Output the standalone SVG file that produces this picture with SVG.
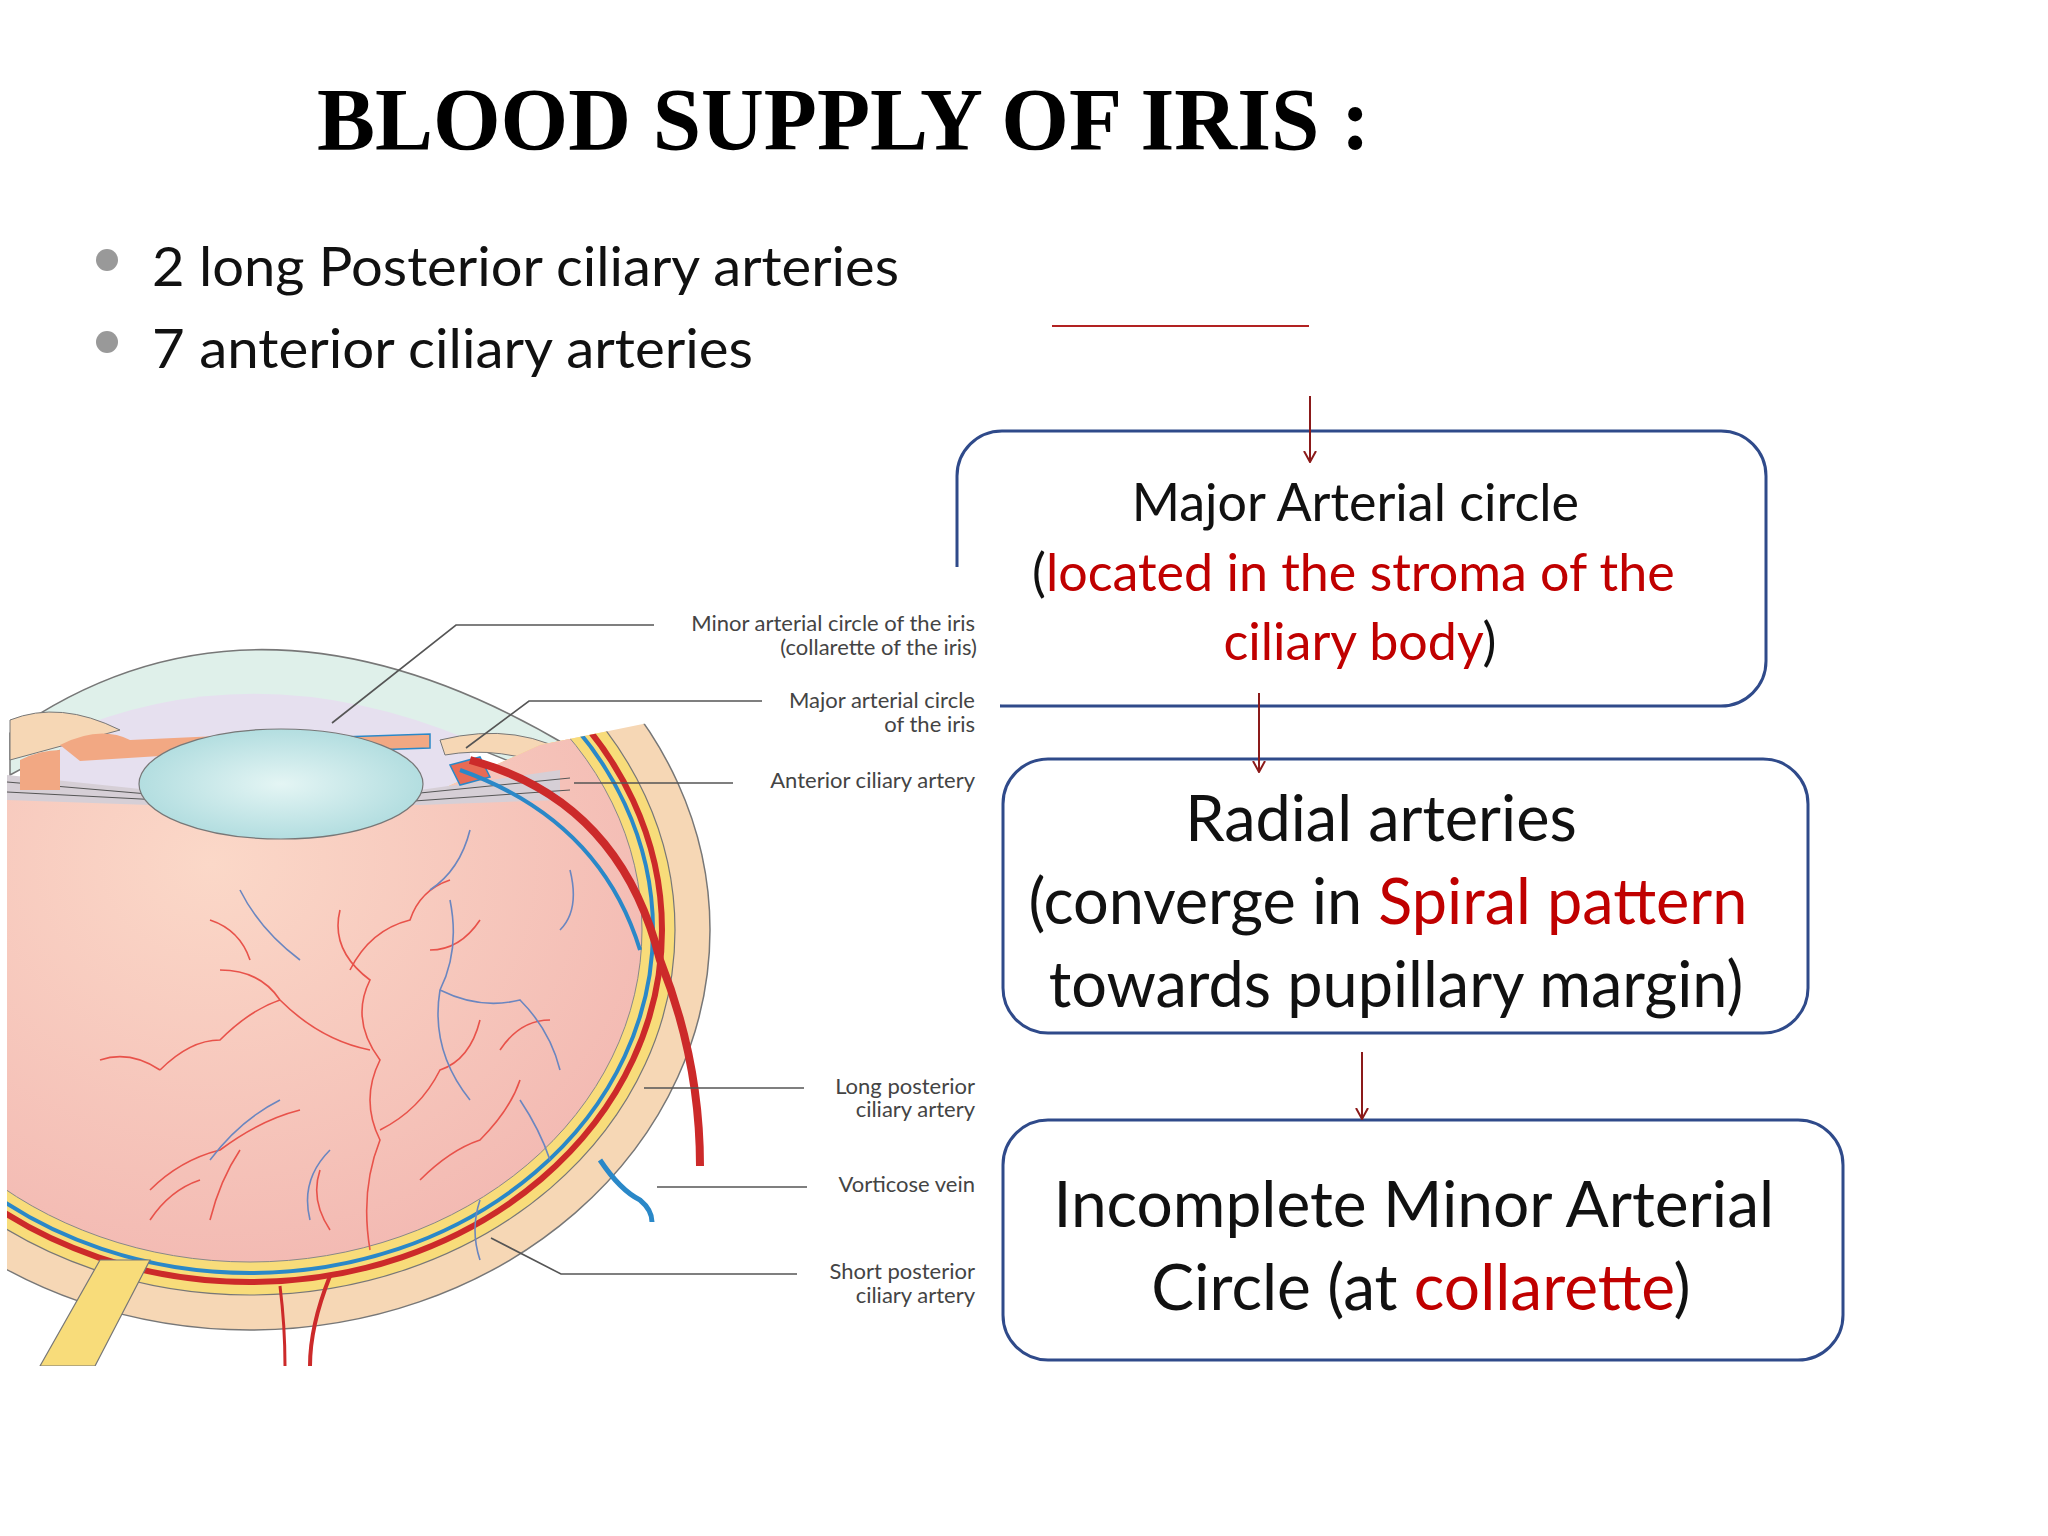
<svg xmlns="http://www.w3.org/2000/svg" width="2048" height="1536" viewBox="0 0 2048 1536">
<defs>
<style>
.t{font-family:"Liberation Serif",serif;font-weight:bold;font-size:88px;fill:#000}
.b{font-family:Lato,"Open Sans",sans-serif;fill:#111}
.r{fill:#c00000}
.box{fill:#fff;stroke:#2f4a8a;stroke-width:3}
.lab{font-family:Lato,"Open Sans",sans-serif;font-size:22px;fill:#444;text-anchor:end}
.lead{fill:none;stroke:#555;stroke-width:1.6}
.arr{stroke:#8b1a1a;stroke-width:2;fill:none}
.red{fill:none;stroke:#e8524a;stroke-width:1.6}
.blu{fill:none;stroke:#6a86c0;stroke-width:1.6}
</style>
<marker id="ah" viewBox="0 0 12 14" refX="11" refY="7" markerWidth="12" markerHeight="14" markerUnits="userSpaceOnUse" orient="auto">
<path d="M0,1 L11,7 L0,13" fill="none" stroke="#8b1a1a" stroke-width="2"/>
</marker>
<radialGradient id="pg" cx="0.45" cy="0.4" r="0.7"><stop offset="0" stop-color="#fbd8c8"/><stop offset="1" stop-color="#f2b6b0"/></radialGradient>
<radialGradient id="lg" cx="0.5" cy="0.5" r="0.6"><stop offset="0" stop-color="#e4f5f4"/><stop offset="1" stop-color="#a9d9dc"/></radialGradient>
<clipPath id="ec"><rect x="7" y="600" width="745" height="766"/></clipPath>
<clipPath id="gc"><path d="M7,790 L440,790 L540,745 L760,700 L760,1366 L7,1366Z"/></clipPath>
</defs>
<rect width="2048" height="1536" fill="#fff"/>
<text class="t" x="317" y="149" textLength="1053" lengthAdjust="spacingAndGlyphs">BLOOD SUPPLY OF IRIS :</text>
<g id="bullets">
<circle cx="107" cy="260" r="11" fill="#999"/>
<circle cx="107" cy="342" r="11" fill="#999"/>
<text class="b" x="152" y="286" font-size="54" textLength="747" lengthAdjust="spacingAndGlyphs">2 long Posterior ciliary arteries</text>
<text class="b" x="152" y="368" font-size="54" textLength="601" lengthAdjust="spacingAndGlyphs">7 anterior ciliary arteries</text>
</g>
<line x1="1052" y1="326" x2="1309" y2="326" stroke="#b22222" stroke-width="1.8"/>
<g id="n1"><rect class="box" x="957" y="431" width="809" height="275" rx="45"/>
<text class="b" font-size="52" text-anchor="middle">
<tspan x="1362" y="521">Major Arterial circle</tspan>
<tspan x="1360" y="591">(<tspan class="r">located in the stroma of the</tspan></tspan>
<tspan x="1360" y="660"><tspan class="r">ciliary body</tspan>)</tspan></text></g>
<g id="n2"><rect class="box" x="1003" y="759" width="805" height="274" rx="45"/>
<text class="b" font-size="63" text-anchor="middle">
<tspan x="1389" y="841">Radial arteries</tspan>
<tspan x="1396" y="924">(converge in <tspan class="r">Spiral pattern</tspan></tspan>
<tspan x="1396" y="1007">towards pupillary margin)</tspan></text></g>
<g id="n3"><rect class="box" x="1003" y="1120" width="840" height="240" rx="45"/>
<text class="b" font-size="64" text-anchor="middle">
<tspan x="1422" y="1227">Incomplete Minor Arterial</tspan>
<tspan x="1421" y="1310">Circle (at <tspan class="r">collarette</tspan>)</tspan></text></g>
<g id="connectors">
<line class="arr" x1="1310" y1="396" x2="1310" y2="462" marker-end="url(#ah)"/>
<line class="arr" x1="1259" y1="693" x2="1259" y2="772" marker-end="url(#ah)"/>
<line class="arr" x1="1362" y1="1052" x2="1362" y2="1119" marker-end="url(#ah)"/>
</g>
<g id="eye">
<rect x="0" y="567" width="1000" height="813" fill="#fff"/>
<g clip-path="url(#ec)">
<path d="M10,733 Q255,560 568,746 L540,775 Q255,640 10,775Z" fill="#dff0ea" stroke="#777" stroke-width="1.5"/>
<path d="M60,735 Q255,650 470,740 L470,795 L60,795Z" fill="#e6e0ef"/>
<path d="M440,740 Q520,720 580,760 L560,770 Q500,745 445,755Z" fill="#f6d7b5" stroke="#777" stroke-width="1"/>
<path d="M10,720 Q60,700 120,730 L10,760Z" fill="#f6d7b5" stroke="#777" stroke-width="1"/>
<g clip-path="url(#gc)">
<ellipse cx="250" cy="930" rx="460" ry="400" fill="#f6d7b5" stroke="#777" stroke-width="1.5"/>
<ellipse cx="250" cy="930" rx="425" ry="365" fill="#f8dc7a" stroke="#777" stroke-width="1.2"/>
<ellipse cx="250" cy="930" rx="412" ry="352" fill="none" stroke="#cc2a2a" stroke-width="6"/>
<ellipse cx="250" cy="930" rx="403" ry="343" fill="none" stroke="#2a88c8" stroke-width="4"/>
<ellipse cx="250" cy="930" rx="392" ry="332" fill="url(#pg)" stroke="#888" stroke-width="1"/>
</g>
<path d="M7,775 L150,790 L420,790 L560,770 L560,800 L420,805 L150,805 L7,800Z" fill="#d6cfd6"/>
<path d="M7,782 L160,795 M7,792 L160,800 M400,795 L570,778 M400,802 L570,790" stroke="#555" stroke-width="1"/>
<path d="M60,745 q40,-20 70,-5 l110,-5 l0,16 l-160,10 Z" fill="#f2a883"/>
<path d="M20,760 q20,-10 40,-10 l0,40 l-40,0Z" fill="#f2a883"/>
<path d="M310,738 l120,-4 l0,14 l-120,4Z" fill="#f2a883" stroke="#2a88c8" stroke-width="1.5"/>
<path d="M450,765 l30,-8 l10,20 l-30,8Z" fill="#e86b55" stroke="#2a88c8" stroke-width="1.5"/>
<ellipse cx="281" cy="784" rx="142" ry="55" fill="url(#lg)" stroke="#777" stroke-width="1.2"/>
<path d="M470,760 Q620,800 660,960 Q700,1060 700,1166" fill="none" stroke="#cc2a2a" stroke-width="8"/>
<path d="M460,770 Q600,820 640,950" fill="none" stroke="#2a88c8" stroke-width="4"/>
<path d="M600,1160 q20,30 40,40 q12,10 12,22" fill="none" stroke="#2a88c8" stroke-width="5"/>
<path d="M40,1366 L100,1260 L150,1260 L95,1366Z" fill="#f8dc7a" stroke="#777" stroke-width="1.2"/>
<path d="M310,1366 q0,-40 20,-90" fill="none" stroke="#cc2a2a" stroke-width="4"/>
<path d="M285,1366 q0,-40 -5,-80" fill="none" stroke="#cc2a2a" stroke-width="3"/>
<path class="red" d="M370,1250 q-10,-60 10,-110 q-20,-40 0,-80 q-30,-40 -10,-80 q-40,-30 -30,-70 M380,1130 q40,-20 60,-60 q30,-10 40,-50 M370,1050 q-50,-10 -90,-50 q-20,-30 -60,-30 M280,1000 q-30,10 -60,40 q-30,0 -60,30 M350,970 q20,-40 60,-50 q10,-30 40,-40 M300,1110 q-40,10 -80,40 q-40,10 -70,40 M240,1150 q-20,30 -30,70 M420,1180 q30,-30 60,-40 q30,-30 40,-60 M250,960 q-10,-30 -40,-40 M160,1070 q-30,-20 -60,-10 M200,1180 q-30,10 -50,40 M430,950 q30,0 50,-30 M500,1050 q20,-30 50,-30 M330,1230 q-20,-30 -10,-60"/>
<path class="blu" d="M470,1100 q-40,-50 -30,-110 q20,-40 10,-90 M440,990 q40,20 80,10 q30,30 40,70 M330,1150 q-30,30 -20,70 M430,890 q30,-20 40,-60 M300,960 q-40,-30 -60,-70 M520,1100 q20,30 30,60 M560,930 q20,-20 10,-60 M280,1100 q-40,20 -70,60 M480,1200 q-10,30 0,60"/>
</g>
<polyline class="lead" points="654,625 456,625 332,723"/>
<polyline class="lead" points="762,701 529,701 466,748"/>
<polyline class="lead" points="733,783 574,783"/>
<polyline class="lead" points="804,1088 644,1088"/>
<polyline class="lead" points="807,1187 657,1187"/>
<polyline class="lead" points="797,1274 561,1274 491,1238"/>
<text class="lab" x="975" y="631">Minor arterial circle of the iris</text>
<text class="lab" x="977" y="655">(collarette of the iris)</text>
<text class="lab" x="975" y="708">Major arterial circle</text>
<text class="lab" x="975" y="732">of the iris</text>
<text class="lab" x="975" y="788">Anterior ciliary artery</text>
<text class="lab" x="975" y="1094">Long posterior</text>
<text class="lab" x="975" y="1117">ciliary artery</text>
<text class="lab" x="975" y="1192">Vorticose vein</text>
<text class="lab" x="975" y="1279">Short posterior</text>
<text class="lab" x="975" y="1303">ciliary artery</text>
</g>
</svg>
